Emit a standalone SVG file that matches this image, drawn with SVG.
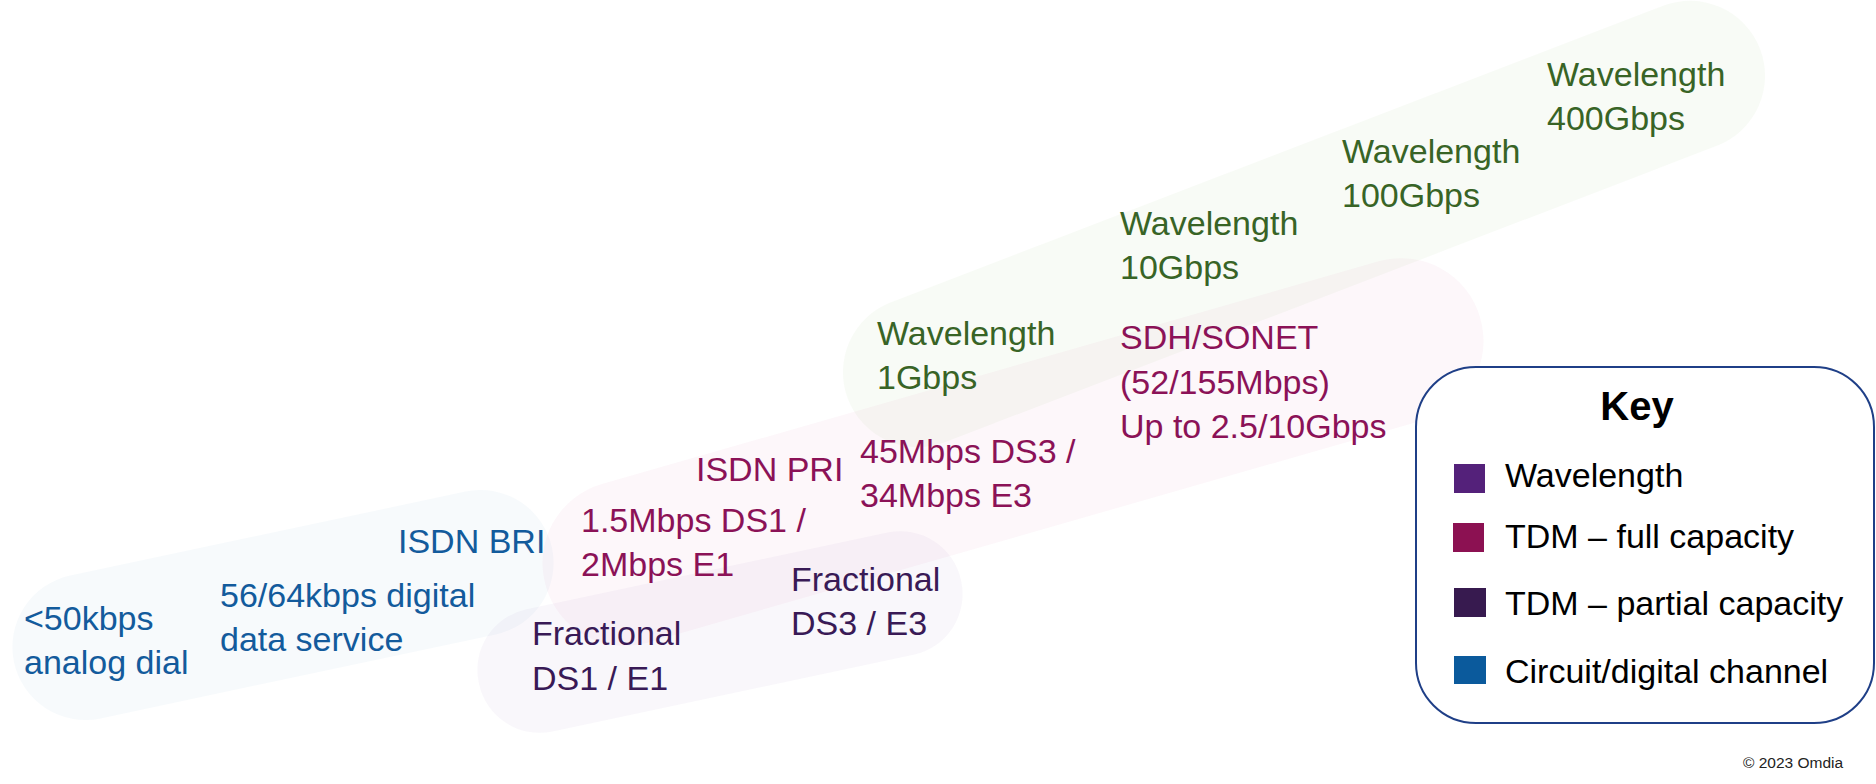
<svg xmlns="http://www.w3.org/2000/svg" width="1876" height="784" viewBox="0 0 1876 784">
<style>
text{font-family:"Liberation Sans",Arial,sans-serif;font-size:34px}
.b{fill:#135B9C}.m{fill:#8B1257}.p{fill:#391A56}.g{fill:#386426}.k{fill:#000}
.kt{font-weight:bold;font-size:40px}
.c{font-size:15.5px;fill:#222}
</style>
<rect width="1876" height="784" fill="#fff"/>
<g id="bands">
<rect id="band-wavelength" x="815.5" y="149" width="977" height="150" rx="75" fill="#70AD47" fill-opacity="0.05" transform="rotate(-21 1304 224)"/>
<rect id="band-tdm-full" x="527" y="369.5" width="972" height="165" rx="82" fill="#C0107A" fill-opacity="0.035" transform="rotate(-16 1013 452)"/>
<rect id="band-circuit" x="8" y="532" width="550" height="146" rx="73" fill="#2E75B6" fill-opacity="0.04" transform="rotate(-12 283 605)"/>
<rect id="band-tdm-partial" x="473.5" y="569.5" width="493" height="125" rx="62" fill="#7030A0" fill-opacity="0.04" transform="rotate(-12 720 632)"/>
</g>
<g id="circuit-nodes">
<g id="n-analog"><text class="b" x="24" y="630">&lt;50kbps</text><text class="b" x="24" y="674">analog dial</text></g>
<g id="n-dds"><text class="b" x="220" y="607">56/64kbps digital</text><text class="b" x="220" y="651">data service</text></g>
<g id="n-bri"><text class="b" x="398" y="553">ISDN BRI</text></g>
</g>
<g id="tdm-partial-nodes">
<g id="n-frac-ds1"><text class="p" x="532" y="645">Fractional</text><text class="p" x="532" y="690">DS1 / E1</text></g>
<g id="n-frac-ds3"><text class="p" x="791" y="591">Fractional</text><text class="p" x="791" y="635">DS3 / E3</text></g>
</g>
<g id="tdm-full-nodes">
<g id="n-pri"><text class="m" x="696" y="481">ISDN PRI</text></g>
<g id="n-ds1"><text class="m" x="581" y="532">1.5Mbps DS1 /</text><text class="m" x="581" y="576">2Mbps E1</text></g>
<g id="n-ds3"><text class="m" x="860" y="463">45Mbps DS3 /</text><text class="m" x="860" y="507">34Mbps E3</text></g>
<g id="n-sdh"><text class="m" x="1120" y="349">SDH/SONET</text><text class="m" x="1120" y="394">(52/155Mbps)</text><text class="m" x="1120" y="438">Up to 2.5/10Gbps</text></g>
</g>
<g id="wavelength-nodes">
<g id="n-w1"><text class="g" x="877" y="345">Wavelength</text><text class="g" x="877" y="389">1Gbps</text></g>
<g id="n-w10"><text class="g" x="1120" y="235">Wavelength</text><text class="g" x="1120" y="279">10Gbps</text></g>
<g id="n-w100"><text class="g" x="1342" y="163">Wavelength</text><text class="g" x="1342" y="207">100Gbps</text></g>
<g id="n-w400"><text class="g" x="1547" y="86">Wavelength</text><text class="g" x="1547" y="130">400Gbps</text></g>
</g>
<g id="connectors"></g>
<g id="key">
<rect x="1416" y="367" width="458" height="356" rx="60" fill="#fff" stroke="#1F3F87" stroke-width="2"/>
<text class="kt k" x="1637" y="420" text-anchor="middle">Key</text>
<rect x="1454" y="464" width="31" height="29" fill="#54217A"/>
<text class="k" x="1505" y="487">Wavelength</text>
<rect x="1453" y="523" width="31" height="29" fill="#8C1152"/>
<text class="k" x="1505" y="548">TDM – full capacity</text>
<rect x="1454" y="588" width="32" height="29" fill="#371A4F"/>
<text class="k" x="1505" y="615">TDM – partial capacity</text>
<rect x="1454" y="656" width="32" height="28" fill="#0B5A9C"/>
<text class="k" x="1505" y="683">Circuit/digital channel</text>
</g>
<text class="c" x="1743" y="768">© 2023 Omdia</text>
</svg>
